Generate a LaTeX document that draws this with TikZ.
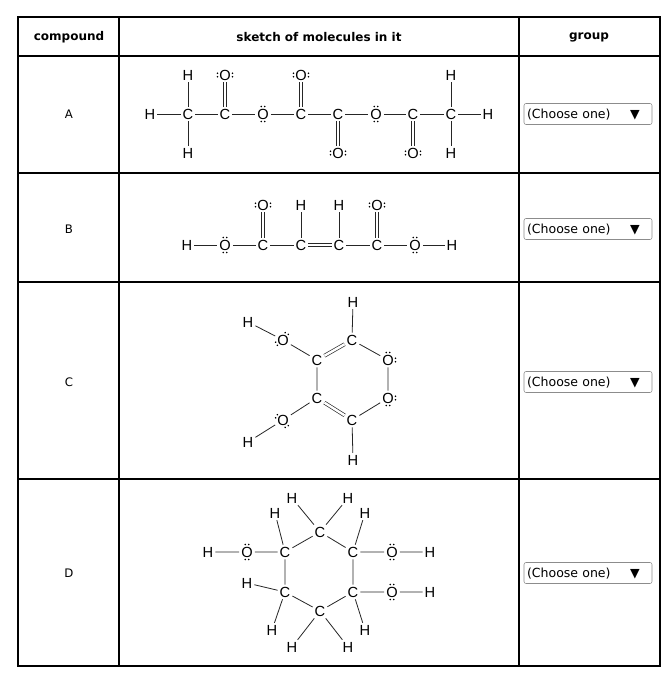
\documentclass[tikz,border=0pt]{standalone}
\usepackage{fontspec}
\setmainfont{DejaVu Sans}
\newfontfamily\arialf{Liberation Sans}
\newcommand\lp[2]{\begin{scope}[shift={(#1.center)},rotate=#2]\fill (7.5,1.8) circle (0.9); \fill (7.5,-1.8) circle (0.9);\end{scope}}
\begin{document}
\begin{tikzpicture}[x=0.75pt,y=-0.75pt,
  atom/.style={inner sep=1.4pt,font=\arialf\fontsize{11}{12}\selectfont},
  bond/.style={draw=black!85,line width=0.6pt},
  dbl/.style={draw=black!85,double,double distance=1.8pt,line width=0.5pt},
  head/.style={font=\bfseries\fontsize{9}{10}\selectfont},
  lbl/.style={font=\fontsize{8.8}{10}\selectfont},
  menu/.style={draw=black!45,rounded corners=1.5pt,text width=122*0.75pt,minimum height=21*0.75pt,inner xsep=3*0.75pt,inner ysep=0pt,text depth=0.5pt,font=\fontsize{9.4}{11}\selectfont}]
\useasboundingbox (0,0) rectangle (670,691);
% table
\draw[line width=1.2pt] (18,17) rectangle (660,666);
\draw[line width=0.8pt] (119,17) -- (119,666) (519,17) -- (519,666);
\draw[line width=0.8pt] (18,56) -- (660,56) (18,173) -- (660,173) (18,282) -- (660,282) (18,479) -- (660,479);
\node[head] (h1) at (69,37) {compound};
\node[head] (h2) at (319,37) {sketch of molecules in it};
\node[head] (h3) at (589,37) {group};
\foreach \n/\y in {A/114,B/229,C/382,D/573}{
  \node[lbl] (r\n) at (69,\y) {\n};
  \node[menu] (m\n) at (588,\y) {(Choose one)\hfill ▼\hspace*{7pt}\null};
}
% ---------- A
\node[atom] (a1) at (150,114) {H};
\node[atom] (a2) at (188,114) {C};
\node[atom] (a3) at (225,114) {C};
\node[atom] (a4) at (263,114) {O};
\node[atom] (a5) at (301,114) {C};
\node[atom] (a6) at (338,114) {C};
\node[atom] (a7) at (376,114) {O};
\node[atom] (a8) at (413,114) {C};
\node[atom] (a9) at (451,114) {C};
\node[atom] (a10) at (488,114) {H};
\node[atom] (at1) at (188,75) {H};
\node[atom] (at2) at (225,75) {O};
\node[atom] (at4) at (301,75) {O};
\node[atom] (at9) at (451,75) {H};
\node[atom] (ab1) at (188,153) {H};
\node[atom] (ab6) at (338,153) {O};
\node[atom] (ab8) at (413,153) {O};
\node[atom] (ab9) at (451,153) {H};
\draw[bond] (a1)--(a2) (a2)--(a3) (a3)--(a4) (a4)--(a5) (a5)--(a6) (a6)--(a7) (a7)--(a8) (a8)--(a9) (a9)--(a10)
  (a2)--(at1) (a2)--(ab1) (a9)--(at9) (a9)--(ab9);
\draw[dbl] (a3)--(at2) (a5)--(at4) (a6)--(ab6) (a8)--(ab8);
\lp{a4}{90}\lp{a4}{270}\lp{a7}{90}\lp{a7}{270}
\foreach \o in {at2,at4,ab6,ab8}{\lp{\o}{0}\lp{\o}{180}}
% ---------- B
\node[atom] (b1) at (187,245) {H};
\node[atom] (b2) at (225,245) {O};
\node[atom] (b3) at (263,245) {C};
\node[atom] (b4) at (301,245) {C};
\node[atom] (b5) at (339,245) {C};
\node[atom] (b6) at (377,245) {C};
\node[atom] (b7) at (415,245) {O};
\node[atom] (b8) at (452,245) {H};
\node[atom] (bt3) at (263,205) {O};
\node[atom] (bt4) at (301,205) {H};
\node[atom] (bt5) at (339,205) {H};
\node[atom] (bt6) at (377,205) {O};
\draw[bond] (b1)--(b2) (b2)--(b3) (b3)--(b4) (b5)--(b6) (b6)--(b7) (b7)--(b8) (b4)--(bt4) (b5)--(bt5);
\draw[dbl] (b4)--(b5) (b3)--(bt3) (b6)--(bt6);
\lp{b2}{90}\lp{b2}{270}\lp{b7}{90}\lp{b7}{270}
\foreach \o in {bt3,bt6}{\lp{\o}{0}\lp{\o}{180}}
% ---------- C
\node[atom] (c1) at (352,340) {C};
\node[atom] (c2) at (388,360) {O};
\node[atom] (c3) at (388,398) {O};
\node[atom] (c4) at (352,420) {C};
\node[atom] (c5) at (317,398) {C};
\node[atom] (c6) at (317,360) {C};
\node[atom] (ch1) at (353,302) {H};
\node[atom] (ch4) at (353,460) {H};
\node[atom] (co6) at (283,340) {O};
\node[atom] (coh6) at (248,322) {H};
\node[atom] (co5) at (283,420) {O};
\node[atom] (coh5) at (248,442) {H};
\draw[bond] (c1)--(c2) (c2)--(c3) (c3)--(c4) (c5)--(c6) (c1)--(ch1) (c4)--(ch4)
  (c6)--(co6) (co6)--(coh6) (c5)--(co5) (co5)--(coh5);
\draw[dbl] (c6)--(c1) (c5)--(c4);
\lp{c2}{90}\lp{c2}{0}\lp{c3}{0}\lp{c3}{270}
\lp{co6}{60}\lp{co6}{210}\lp{co5}{150}\lp{co5}{300}
% ---------- D
\node[atom] (d1) at (320,532) {C};
\node[atom] (d2) at (353,552) {C};
\node[atom] (d3) at (353,592) {C};
\node[atom] (d4) at (320,611) {C};
\node[atom] (d5) at (285,592) {C};
\node[atom] (d6) at (285,552) {C};
\node[atom] (dh1a) at (292,498) {H};
\node[atom] (dh1b) at (348,498) {H};
\node[atom] (dh6) at (275,513) {H};
\node[atom] (dh2) at (365,513) {H};
\node[atom] (do6) at (247,552) {O};
\node[atom] (doh6) at (208,552) {H};
\node[atom] (do2) at (392,552) {O};
\node[atom] (doh2) at (430,552) {H};
\node[atom] (do3) at (392,592) {O};
\node[atom] (doh3) at (430,592) {H};
\node[atom] (dh5a) at (247,583) {H};
\node[atom] (dh5b) at (272,630) {H};
\node[atom] (dh3) at (365,630) {H};
\node[atom] (dh4a) at (292,647) {H};
\node[atom] (dh4b) at (348,647) {H};
\draw[bond] (d1)--(d2) (d2)--(d3) (d3)--(d4) (d4)--(d5) (d5)--(d6) (d6)--(d1)
  (d1)--(dh1a) (d1)--(dh1b) (d6)--(dh6) (d2)--(dh2)
  (d6)--(do6) (do6)--(doh6) (d2)--(do2) (do2)--(doh2) (d3)--(do3) (do3)--(doh3)
  (d5)--(dh5a) (d5)--(dh5b) (d3)--(dh3) (d4)--(dh4a) (d4)--(dh4b);
\foreach \o in {do6,do2,do3}{\lp{\o}{90}\lp{\o}{270}}
\end{tikzpicture}
\end{document}
